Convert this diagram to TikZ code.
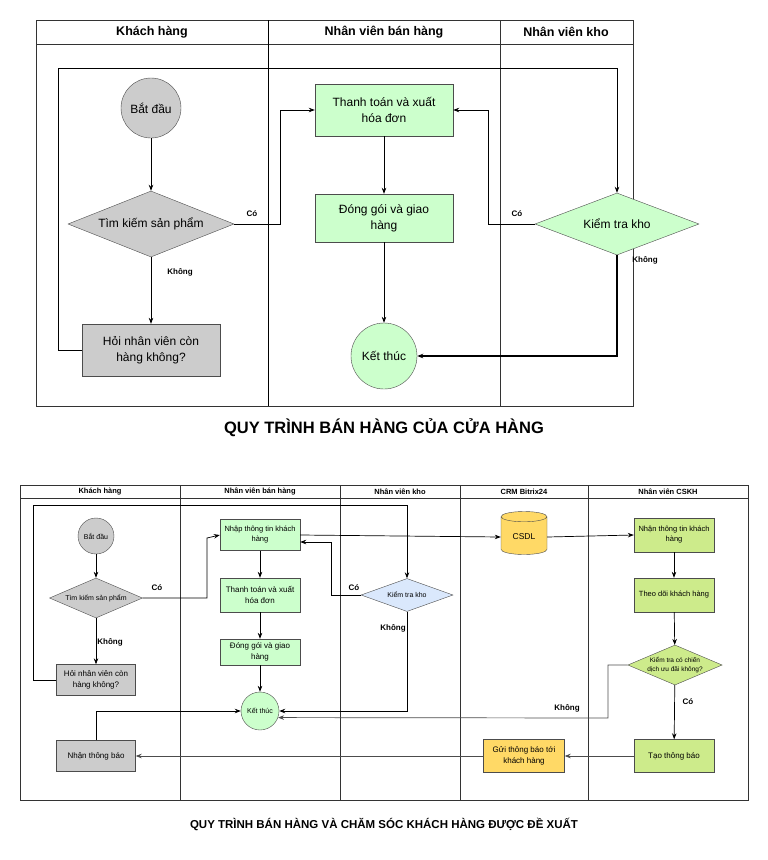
\documentclass[tikz,border=0pt]{standalone}
\usepackage{fontspec}
\setmainfont{Liberation Sans}
\usetikzlibrary{shapes.geometric,arrows.meta}
\definecolor{grayfill}{HTML}{CCCCCC}
\definecolor{greenfill}{HTML}{CCFFCC}
\definecolor{limefill}{HTML}{CDEB8B}
\definecolor{bluefill}{HTML}{DAE8FC}
\definecolor{yellowfill}{HTML}{FFD966}
\tikzset{
  box/.style={draw=black!70, align=center, inner sep=0pt},
  bigbox/.style={box, minimum width=138pt, minimum height=52pt, font=\fontsize{12}{16}\selectfont},
  smallbox/.style={box, minimum width=80pt, minimum height=31pt, font=\fontsize{8}{11}\selectfont},
  decide/.style={draw=black!70, diamond, aspect=2.5, inner sep=0pt, align=center},
  flow/.style={-{Stealth[length=6pt]}, black, line width=0.7pt},
  lbl/.style={font=\bfseries\fontsize{8}{10}\selectfont}
}
\begin{document}
\begin{tikzpicture}[x=1pt,y=-1pt]
  \useasboundingbox (0,0) rectangle (768,860);
  % Top swimlanes
  \draw[black!80] (36,20) rectangle (633,406);
  \draw[black!80] (36,44) -- (633,44);
  \draw[thick] (268,20) -- (268,406);
  \draw[black!80] (500,20) -- (500,406);
  \node[font=\bfseries\fontsize{12.5}{15}\selectfont] at (152,32) {Khách hàng};
  \node[font=\bfseries\fontsize{12.5}{15}\selectfont] at (384,32) {Nhân viên bán hàng};
  \node[font=\bfseries\fontsize{12.5}{15}\selectfont] at (566,32) {Nhân viên kho};
  \node[font=\bfseries\fontsize{16.5}{18}\selectfont] at (384,428) {QUY TRÌNH BÁN HÀNG CỦA CỬA HÀNG};

  \node[circle, draw=black!70, fill=grayfill, minimum size=60pt, font=\fontsize{12}{15}\selectfont] (start-1) at (151,108) {Bắt đầu};
  \node[decide, fill=grayfill, minimum width=166pt, minimum height=66pt, font=\fontsize{12}{15}\selectfont] (search-1) at (151,224) {Tìm kiếm sản phẩm};
  \node[bigbox, fill=grayfill] (ask-1) at (151,350) {Hỏi nhân viên còn\\hàng không?};
  \node[bigbox, fill=greenfill] (pay-1) at (384,110) {Thanh toán và xuất\\hóa đơn};
  \node[bigbox, fill=greenfill, minimum height=48pt] (pack-1) at (384,218) {Đóng gói và giao\\hàng};
  \node[circle, draw=black!70, fill=greenfill, minimum size=66pt, font=\fontsize{12}{15}\selectfont] (end-1) at (384,356) {Kết thúc};
  \node[decide, fill=greenfill, minimum width=164pt, minimum height=62pt, font=\fontsize{12}{15}\selectfont] (stock-1) at (617,224) {Kiểm tra kho};

  \draw[flow] (start-1) -- (search-1);
  \draw[flow] (search-1) -- (ask-1);
  \draw[flow] (search-1.east) -| (280,110) -- (pay-1.west);
  \draw[flow] (ask-1.west) -| (58,68) -| (stock-1.north);
  \draw[flow] (stock-1.west) -| (488,110) -- (pay-1.east);
  \draw[flow, very thick] (stock-1.south) |- (end-1.east);
  \draw[flow] (pay-1) -- (pack-1);
  \draw[flow] (pack-1) -- (end-1);
  \node[lbl] at (180,272) {Không};
  \node[lbl] at (252,214) {Có};
  \node[lbl] at (517,214) {Có};
  \node[lbl] at (645,260) {Không};

  % Bottom swimlanes
  \draw[black!80] (20,485) rectangle (748,800);
  \draw[black!80] (20,498) -- (748,498);
  \foreach \x in {180,340,460,588}
    \draw[black!80] (\x,485) -- (\x,800);
  \foreach \x/\t in {100/Khách hàng, 260/Nhân viên bán hàng, 400/Nhân viên kho, 524/CRM Bitrix24, 668/Nhân viên CSKH}
    \node[font=\bfseries\fontsize{7.5}{9}\selectfont] at (\x,491.5) {\t};
  \node[font=\bfseries\fontsize{11.5}{12}\selectfont] at (384,824) {QUY TRÌNH BÁN HÀNG VÀ CHĂM SÓC KHÁCH HÀNG ĐƯỢC ĐỀ XUẤT};

  \node[circle, draw=black!70, fill=grayfill, minimum size=36pt, font=\fontsize{7}{9}\selectfont] (start-2) at (96,536) {Bắt đầu};
  \node[decide, fill=grayfill, minimum width=93pt, minimum height=40pt, font=\fontsize{7}{9}\selectfont] (search-2) at (96,598) {Tìm kiếm sản phẩm};
  \node[smallbox, fill=grayfill, minimum width=79pt] (ask-2) at (96,680) {Hỏi nhân viên còn\\hàng không?};
  \node[smallbox, fill=grayfill, minimum width=79pt] (notify-2) at (96,756) {Nhận thông báo};
  \node[smallbox, fill=greenfill, font=\fontsize{7.5}{10}\selectfont] (input-2) at (260,535) {Nhập thông tin khách\\hàng};
  \node[smallbox, fill=greenfill, minimum height=34pt] (pay-2) at (260,595) {Thanh toán và xuất\\hóa đơn};
  \node[smallbox, fill=greenfill, minimum height=26pt] (pack-2) at (260,652) {Đóng gói và giao\\hàng};
  \node[circle, draw=black!70, fill=greenfill, minimum size=38pt, font=\fontsize{7}{9}\selectfont] (end-2) at (260,711) {Kết thúc};
  \node[decide, fill=bluefill, minimum width=92pt, minimum height=33pt, font=\fontsize{7}{9}\selectfont] (stock-2) at (407,595) {Kiểm tra kho};
  \node[cylinder, shape border rotate=90, aspect=0.35, draw=black!70, fill=yellowfill, minimum width=46pt, minimum height=43pt, font=\fontsize{8.5}{10}\selectfont] (db-2) at (524,537) {CSDL};
  \node[smallbox, fill=limefill, minimum height=34pt, font=\fontsize{7.5}{10}\selectfont] (receive-2) at (674,535) {Nhận thông tin khách\\hàng};
  \node[smallbox, fill=limefill, minimum height=34pt, font=\fontsize{7.5}{10}\selectfont] (track-2) at (674,595) {Theo dõi khách hàng};
  \node[decide, fill=limefill, minimum width=93pt, minimum height=40pt, font=\fontsize{6.5}{9}\selectfont] (promo-2) at (675,665) {Kiểm tra có chiến\\dịch ưu đãi không?};
  \node[smallbox, fill=limefill, minimum height=33pt] (create-2) at (674,756) {Tạo thông báo};
  \node[smallbox, fill=yellowfill, minimum width=81pt, minimum height=33pt] (send-2) at (524,756) {Gửi thông báo tới\\khách hàng};

  \draw[flow] (start-2) -- (search-2);
  \draw[flow] (search-2) -- (ask-2);
  \draw[flow] (search-2.east) -| (207,538) -- (input-2.west);
  \draw[flow] (ask-2.west) -| (33,505) -| (stock-2.north);
  \draw[flow] (stock-2.west) -| (331,542) -- (input-2.east |- 0,542);
  \draw[flow, thick] (stock-2.south) |- (end-2.east);
  \draw[flow] (input-2.east |- 0,535) -- (db-2.west);
  \draw[flow] (db-2.east) -- (receive-2.west);
  \draw[flow] (input-2) -- (pay-2);
  \draw[flow] (pay-2) -- (pack-2);
  \draw[flow] (pack-2) -- (end-2);
  \draw[flow] (receive-2) -- (track-2);
  \draw[flow] (track-2) -- (promo-2);
  \draw[flow, black!70] (promo-2.west) -| (608,718) -- (end-2.-20);
  \draw[flow] (promo-2) -- (create-2);
  \draw[flow, black!70] (create-2) -- (send-2);
  \draw[flow, black!70] (send-2) -- (notify-2);
  \draw[flow] (notify-2.north) |- (end-2.west);
  \node[lbl] at (110,642) {Không};
  \node[lbl] at (157,588) {Có};
  \node[lbl] at (354,588) {Có};
  \node[lbl] at (393,628) {Không};
  \node[lbl] at (567,708) {Không};
  \node[lbl] at (688,702) {Có};
\end{tikzpicture}
\end{document}
